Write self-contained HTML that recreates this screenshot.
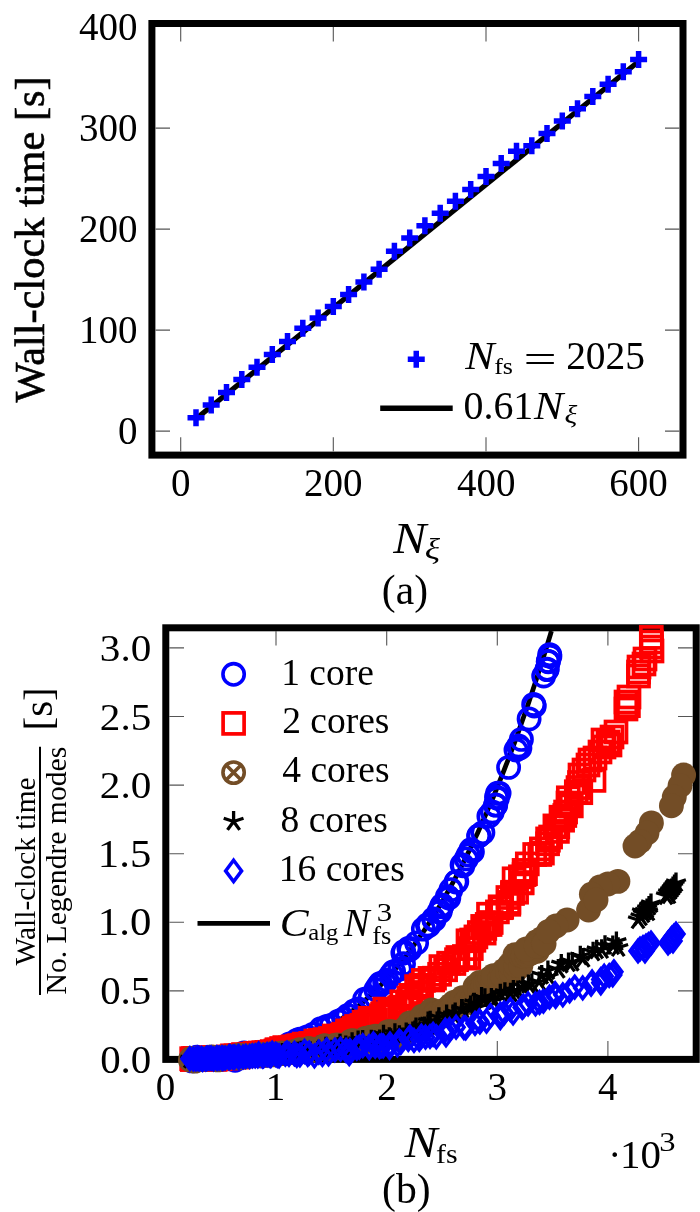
<!DOCTYPE html>
<html><head><meta charset="utf-8"><style>
html,body{margin:0;padding:0;background:#fff;}
svg{display:block;will-change:transform;}
text{font-family:"Liberation Serif", serif;fill:#000;}
.t{font-size:39px;}
.l{font-size:42px;}
.s{font-size:30px;}
.ss{font-size:29px;}
.lg{font-size:37.5px;}
.fr{font-size:29.5px;}
</style></head><body>
<svg width="700" height="1212" viewBox="0 0 700 1212">
<defs>
<symbol id="mc" overflow="visible"><circle r="10.65" fill="none" stroke="#00f" stroke-width="3.6"/></symbol>
<symbol id="ms" overflow="visible"><rect x="-10.5" y="-10.5" width="21" height="21" fill="none" stroke="#f00" stroke-width="3.7"/></symbol>
<symbol id="mo" overflow="visible"><g fill="none" stroke="#734d26" stroke-width="3.6"><circle r="10.65"/><path d="M-7.5,-7.5L7.5,7.5M-7.5,7.5L7.5,-7.5"/></g></symbol>
<symbol id="mf" overflow="visible"><circle r="12.45" fill="#734d26"/></symbol>
<symbol id="mx" overflow="visible"><path d="M0,0V-10.4M0,0L9.9,-3.2M0,0L6.1,8.4M0,0L-6.1,8.4M0,0L-9.9,-3.2" fill="none" stroke="#000" stroke-width="3.3" stroke-linecap="butt"/></symbol>
<symbol id="md" overflow="visible"><path d="M0,-10.7L8,0L0,10.7L-8,0Z" fill="none" stroke="#00f" stroke-width="3.5"/></symbol>
</defs>
<rect x="151.9" y="23.5" width="531.1" height="431.6" fill="none" stroke="#000" stroke-width="7"/>
<path d="M180.7,451.6V437.2M180.7,27V41.4M333.3,451.6V437.2M333.3,27V41.4M486.0,451.6V437.2M486.0,27V41.4M638.6,451.6V437.2M638.6,27V41.4M155.4,431.1H170M679.6,431.1H665M155.4,330.1H170M679.6,330.1H665M155.4,229.1H170M679.6,229.1H665M155.4,128.1H170M679.6,128.1H665" stroke="#555" stroke-width="1.1" fill="none"/>
<path d="M196.0,418.8L638.6,61.4" stroke="#000" stroke-width="5.2"/>
<path d="M187.5,417.8h17M196.0,409.3v17M202.7,405.0h17M211.2,396.5v17M218.0,392.4h17M226.5,383.9v17M233.3,379.5h17M241.8,371.0v17M248.5,367.3h17M257.0,358.8v17M263.8,354.4h17M272.3,345.9v17M279.0,341.5h17M287.5,333.0v17M294.3,328.2h17M302.8,319.7v17M309.6,318.1h17M318.1,309.6v17M324.8,306.5h17M333.3,298.0v17M340.1,294.4h17M348.6,285.9v17M355.4,282.0h17M363.9,273.5v17M370.6,269.2h17M379.1,260.7v17M385.9,251.2h17M394.4,242.7v17M401.2,238.1h17M409.7,229.6v17M416.4,225.7h17M424.9,217.2v17M431.7,213.2h17M440.2,204.7v17M446.9,201.2h17M455.4,192.7v17M462.2,189.6h17M470.7,181.1v17M477.5,176.4h17M486.0,167.9v17M492.7,163.6h17M501.2,155.1v17M508.0,151.3h17M516.5,142.8v17M523.3,145.7h17M531.8,137.2v17M538.5,133.5h17M547.0,125.0v17M553.8,121.0h17M562.3,112.5v17M569.0,108.8h17M577.5,100.3v17M584.3,96.5h17M592.8,88.0v17M599.6,84.3h17M608.1,75.8v17M614.8,71.7h17M623.3,63.2v17M630.1,59.4h17M638.6,50.9v17" stroke="#00f" stroke-width="5.5" fill="none"/>
<path d="M407.75,359.25h17M416.25,350.75v17" stroke="#00f" stroke-width="5.5"/>
<path d="M380.2,408.25H452.7" stroke="#000" stroke-width="5.3"/>
<text transform="translate(117.90,443.70)" font-size="39">0</text>
<text transform="translate(78.90,342.70)" font-size="39">100</text>
<text transform="translate(78.90,241.70)" font-size="39">200</text>
<text transform="translate(78.90,140.70)" font-size="39">300</text>
<text transform="translate(78.90,39.70)" font-size="39">400</text>
<text transform="translate(170.95,496.00)" font-size="39">0</text>
<text transform="translate(303.96,496.00)" font-size="39">200</text>
<text transform="translate(457.09,496.00)" font-size="39">400</text>
<text transform="translate(609.23,496.00)" font-size="39">600</text>
<text transform="translate(43.5,239.4) rotate(-90)" text-anchor="middle" font-size="42" textLength="326" lengthAdjust="spacingAndGlyphs" stroke="#000" stroke-width="0.6">Wall-clock time [s]</text>
<text transform="translate(393.18,552.90) scale(1.1244,1)" font-size="44" font-style="italic">N</text>
<text transform="translate(424.81,559.00) scale(1.1915,1)" font-size="30" font-style="italic">ξ</text>
<text transform="translate(381.87,603.90) scale(0.9896,1)" font-size="42">(a)</text>
<text transform="translate(465.28,369.30) scale(1.1250,1)" font-size="39" font-style="italic">N</text>
<text transform="translate(494.19,373.60) scale(1.0857,1)" font-size="24">fs</text>
<text transform="translate(523.38,373.00) scale(1.5111,1)" font-size="39">=</text>
<text transform="translate(566.13,369.40) scale(1.0127,1)" font-size="39">2025</text>
<text transform="translate(463.47,418.80) scale(1.0233,1)" font-size="39">0.61</text>
<text transform="translate(533.88,418.80) scale(1.1250,1)" font-size="39" font-style="italic">N</text>
<text transform="translate(564.42,423.00) scale(1.1707,1)" font-size="25.5" font-style="italic">ξ</text>
<rect x="165.8" y="627.8" width="530.4" height="431.6" fill="none" stroke="#000" stroke-width="7"/>
<path d="M276.0,1056V1041M276.0,631V645.5M386.7,1056V1041M386.7,631V645.5M497.3,1056V1041M497.3,631V645.5M607.9,1056V1041M607.9,631V645.5M169.2,990.9H184M692.8,990.9H678M169.2,922.3H184M692.8,922.3H678M169.2,853.7H184M692.8,853.7H678M169.2,785.1H184M692.8,785.1H678M169.2,716.5H184M692.8,716.5H678M169.2,647.9H184M692.8,647.9H678" stroke="#555" stroke-width="1.1" fill="none"/>
<polyline points="187.5,1059.4 189.7,1059.4 192.0,1059.4 194.2,1059.3 196.4,1059.3 198.6,1059.2 200.8,1059.2 203.0,1059.1 205.2,1059.0 207.4,1058.9 209.7,1058.9 211.9,1058.8 214.1,1058.6 216.3,1058.5 218.5,1058.4 220.7,1058.2 222.9,1058.1 225.1,1057.9 227.4,1057.7 229.6,1057.5 231.8,1057.3 234.0,1057.1 236.2,1056.9 238.4,1056.6 240.6,1056.3 242.8,1056.0 245.1,1055.7 247.3,1055.4 249.5,1055.1 251.7,1054.7 253.9,1054.3 256.1,1053.9 258.3,1053.5 260.5,1053.1 262.8,1052.6 265.0,1052.1 267.2,1051.6 269.4,1051.1 271.6,1050.6 273.8,1050.0 276.0,1049.4 278.2,1048.8 280.5,1048.2 282.7,1047.5 284.9,1046.8 287.1,1046.1 289.3,1045.3 291.5,1044.6 293.7,1043.8 295.9,1042.9 298.2,1042.1 300.4,1041.2 302.6,1040.3 304.8,1039.3 307.0,1038.4 309.2,1037.3 311.4,1036.3 313.6,1035.2 315.9,1034.1 318.1,1033.0 320.3,1031.8 322.5,1030.6 324.7,1029.4 326.9,1028.1 329.1,1026.8 331.3,1025.5 333.6,1024.1 335.8,1022.7 338.0,1021.2 340.2,1019.7 342.4,1018.2 344.6,1016.6 346.8,1015.0 349.0,1013.4 351.3,1011.7 353.5,1010.0 355.7,1008.2 357.9,1006.4 360.1,1004.5 362.3,1002.6 364.5,1000.7 366.7,998.7 369.0,996.7 371.2,994.6 373.4,992.5 375.6,990.3 377.8,988.1 380.0,985.9 382.2,983.6 384.4,981.2 386.7,978.8 388.9,976.4 391.1,973.9 393.3,971.3 395.5,968.8 397.7,966.1 399.9,963.4 402.1,960.7 404.4,957.9 406.6,955.0 408.8,952.1 411.0,949.2 413.2,946.2 415.4,943.1 417.6,940.0 419.8,936.8 422.1,933.6 424.3,930.3 426.5,927.0 428.7,923.6 430.9,920.1 433.1,916.6 435.3,913.0 437.5,909.4 439.8,905.7 442.0,901.9 444.2,898.1 446.4,894.2 448.6,890.3 450.8,886.3 453.0,882.3 455.3,878.1 457.5,874.0 459.7,869.7 461.9,865.4 464.1,861.0 466.3,856.6 468.5,852.1 470.7,847.5 473.0,842.8 475.2,838.1 477.4,833.4 479.6,828.5 481.8,823.6 484.0,818.6 486.2,813.6 488.4,808.4 490.7,803.2 492.9,798.0 495.1,792.6 497.3,787.2 499.5,781.7 501.7,776.2 503.9,770.6 506.1,764.9 508.4,759.1 510.6,753.2 512.8,747.3 515.0,741.3 517.2,735.2 519.4,729.1 521.6,722.8 523.8,716.5 526.1,710.1 528.3,703.7 530.5,697.1 532.7,690.5 534.9,683.8 537.1,677.0 539.3,670.1 541.5,663.2 543.8,656.1 546.0,649.0 548.2,641.8 550.4,634.5 551.4,631" fill="none" stroke="#000" stroke-width="4.8"/>
<use href="#mc" x="191.8" y="1060.9"/>
<use href="#mc" x="194.6" y="1060.4"/>
<use href="#mc" x="196.8" y="1057.2"/>
<use href="#mc" x="202.4" y="1059.2"/>
<use href="#mc" x="203.5" y="1058.6"/>
<use href="#mc" x="206.8" y="1057.7"/>
<use href="#mc" x="212.7" y="1058.2"/>
<use href="#mc" x="211.7" y="1057.6"/>
<use href="#mc" x="218.1" y="1059.5"/>
<use href="#mc" x="220.2" y="1059.4"/>
<use href="#mc" x="224.0" y="1058.7"/>
<use href="#mc" x="225.9" y="1057.7"/>
<use href="#mc" x="229.7" y="1056.0"/>
<use href="#mc" x="235.1" y="1060.2"/>
<use href="#mc" x="240.2" y="1056.9"/>
<use href="#mc" x="244.0" y="1052.9"/>
<use href="#mc" x="249.6" y="1053.6"/>
<use href="#mc" x="250.2" y="1053.5"/>
<use href="#mc" x="256.8" y="1054.1"/>
<use href="#mc" x="261.0" y="1056.1"/>
<use href="#mc" x="265.9" y="1054.8"/>
<use href="#mc" x="270.5" y="1051.9"/>
<use href="#mc" x="273.5" y="1052.3"/>
<use href="#mc" x="279.5" y="1051.0"/>
<use href="#mc" x="284.9" y="1049.4"/>
<use href="#mc" x="288.9" y="1044.9"/>
<use href="#mc" x="289.6" y="1044.0"/>
<use href="#mc" x="296.8" y="1040.5"/>
<use href="#mc" x="299.7" y="1039.1"/>
<use href="#mc" x="307.1" y="1037.0"/>
<use href="#mc" x="313.4" y="1034.2"/>
<use href="#mc" x="320.8" y="1028.7"/>
<use href="#mc" x="326.8" y="1026.5"/>
<use href="#mc" x="331.5" y="1025.3"/>
<use href="#mc" x="338.5" y="1021.1"/>
<use href="#mc" x="343.7" y="1018.9"/>
<use href="#mc" x="347.9" y="1015.5"/>
<use href="#mc" x="354.2" y="1011.0"/>
<use href="#mc" x="358.5" y="1009.0"/>
<use href="#mc" x="364.7" y="999.3"/>
<use href="#mc" x="370.1" y="997.5"/>
<use href="#mc" x="375.9" y="989.7"/>
<use href="#mc" x="378.2" y="986.2"/>
<use href="#mc" x="380.4" y="983.4"/>
<use href="#mc" x="384.7" y="982.6"/>
<use href="#mc" x="386.9" y="980.0"/>
<use href="#mc" x="391.3" y="974.6"/>
<use href="#mc" x="393.6" y="971.6"/>
<use href="#mc" x="400.0" y="968.9"/>
<use href="#mc" x="403.5" y="963.7"/>
<use href="#mc" x="549.7" y="654.6"/>
<use href="#mc" x="548.3" y="661.4"/>
<use href="#mc" x="547.1" y="669.1"/>
<use href="#mc" x="543.7" y="676.0"/>
<use href="#mc" x="534.3" y="706.0"/>
<use href="#mc" x="529.1" y="718.9"/>
<use href="#mc" x="521.4" y="739.4"/>
<use href="#mc" x="518.5" y="746.0"/>
<use href="#mc" x="516.0" y="750.0"/>
<use href="#mc" x="508.6" y="767.4"/>
<use href="#mc" x="499.1" y="793.1"/>
<use href="#mc" x="497.4" y="798.3"/>
<use href="#mc" x="495.7" y="805.1"/>
<use href="#mc" x="492.3" y="812.0"/>
<use href="#mc" x="488.9" y="816.3"/>
<use href="#mc" x="482.9" y="832.6"/>
<use href="#mc" x="478.6" y="836.0"/>
<use href="#mc" x="470.9" y="849.7"/>
<use href="#mc" x="468.3" y="854.9"/>
<use href="#mc" x="466.3" y="858.9"/>
<use href="#mc" x="462.9" y="865.7"/>
<use href="#mc" x="456.0" y="882.0"/>
<use href="#mc" x="450.9" y="889.7"/>
<use href="#mc" x="447.4" y="896.6"/>
<use href="#mc" x="442.3" y="905.1"/>
<use href="#mc" x="438.9" y="912.0"/>
<use href="#mc" x="433.7" y="918.9"/>
<use href="#mc" x="428.6" y="925.7"/>
<use href="#mc" x="423.4" y="929.1"/>
<use href="#mc" x="416.6" y="942.9"/>
<use href="#mc" x="409.7" y="949.7"/>
<use href="#mc" x="402.9" y="953.1"/>
<use href="#mc" x="549.9" y="656.3"/>
<use href="#mc" x="548.3" y="661.7"/>
<use href="#mc" x="547.1" y="669.6"/>
<use href="#mc" x="533.7" y="704.4"/>
<use href="#mc" x="519.9" y="747.9"/>
<use href="#mc" x="497.6" y="793.2"/>
<use href="#mc" x="496.5" y="797.3"/>
<use href="#mc" x="495.6" y="804.9"/>
<use href="#mc" x="479.1" y="835.8"/>
<use href="#mc" x="472.4" y="851.7"/>
<use href="#mc" x="462.1" y="864.9"/>
<use href="#mc" x="456.8" y="881.6"/>
<use href="#mc" x="448.8" y="898.0"/>
<use href="#mc" x="441.4" y="906.7"/>
<use href="#mc" x="440.3" y="911.6"/>
<use href="#mc" x="434.1" y="920.0"/>
<use href="#mc" x="427.4" y="925.0"/>
<use href="#mc" x="408.9" y="948.1"/>
<use href="#mc" x="403.8" y="951.8"/>
<use href="#ms" x="191.7" y="1058.7"/>
<use href="#ms" x="192.3" y="1059.6"/>
<use href="#ms" x="193.5" y="1058.5"/>
<use href="#ms" x="195.3" y="1058.4"/>
<use href="#ms" x="196.7" y="1059.1"/>
<use href="#ms" x="201.1" y="1058.7"/>
<use href="#ms" x="201.3" y="1058.8"/>
<use href="#ms" x="203.4" y="1058.7"/>
<use href="#ms" x="203.5" y="1059.4"/>
<use href="#ms" x="206.1" y="1058.3"/>
<use href="#ms" x="207.4" y="1058.7"/>
<use href="#ms" x="210.5" y="1058.3"/>
<use href="#ms" x="211.8" y="1057.6"/>
<use href="#ms" x="214.3" y="1057.6"/>
<use href="#ms" x="215.1" y="1059.4"/>
<use href="#ms" x="219.7" y="1058.8"/>
<use href="#ms" x="221.0" y="1057.9"/>
<use href="#ms" x="224.4" y="1057.2"/>
<use href="#ms" x="225.8" y="1058.1"/>
<use href="#ms" x="228.8" y="1057.0"/>
<use href="#ms" x="232.5" y="1055.8"/>
<use href="#ms" x="233.7" y="1057.1"/>
<use href="#ms" x="236.0" y="1055.8"/>
<use href="#ms" x="238.1" y="1057.1"/>
<use href="#ms" x="240.5" y="1055.4"/>
<use href="#ms" x="243.3" y="1054.8"/>
<use href="#ms" x="243.9" y="1054.8"/>
<use href="#ms" x="248.8" y="1055.1"/>
<use href="#ms" x="250.9" y="1054.1"/>
<use href="#ms" x="254.2" y="1054.3"/>
<use href="#ms" x="255.3" y="1055.0"/>
<use href="#ms" x="255.3" y="1053.4"/>
<use href="#ms" x="258.5" y="1054.6"/>
<use href="#ms" x="260.3" y="1053.0"/>
<use href="#ms" x="262.7" y="1053.7"/>
<use href="#ms" x="263.8" y="1052.7"/>
<use href="#ms" x="266.9" y="1052.4"/>
<use href="#ms" x="269.7" y="1052.3"/>
<use href="#ms" x="272.2" y="1051.6"/>
<use href="#ms" x="275.9" y="1050.9"/>
<use href="#ms" x="277.0" y="1049.7"/>
<use href="#ms" x="279.1" y="1050.1"/>
<use href="#ms" x="281.6" y="1048.5"/>
<use href="#ms" x="284.8" y="1047.6"/>
<use href="#ms" x="287.3" y="1048.3"/>
<use href="#ms" x="290.4" y="1047.9"/>
<use href="#ms" x="293.0" y="1046.9"/>
<use href="#ms" x="294.8" y="1047.1"/>
<use href="#ms" x="297.5" y="1046.1"/>
<use href="#ms" x="299.6" y="1045.7"/>
<use href="#ms" x="302.5" y="1045.3"/>
<use href="#ms" x="303.8" y="1045.1"/>
<use href="#ms" x="304.3" y="1044.1"/>
<use href="#ms" x="310.7" y="1043.4"/>
<use href="#ms" x="312.5" y="1044.1"/>
<use href="#ms" x="315.8" y="1041.0"/>
<use href="#ms" x="316.3" y="1042.4"/>
<use href="#ms" x="319.5" y="1041.8"/>
<use href="#ms" x="320.0" y="1040.6"/>
<use href="#ms" x="322.0" y="1041.6"/>
<use href="#ms" x="322.5" y="1040.4"/>
<use href="#ms" x="325.2" y="1039.6"/>
<use href="#ms" x="331.0" y="1039.0"/>
<use href="#ms" x="330.4" y="1038.6"/>
<use href="#ms" x="332.0" y="1038.7"/>
<use href="#ms" x="336.5" y="1038.4"/>
<use href="#ms" x="334.3" y="1036.0"/>
<use href="#ms" x="338.8" y="1038.3"/>
<use href="#ms" x="343.7" y="1034.2"/>
<use href="#ms" x="342.5" y="1035.5"/>
<use href="#ms" x="347.7" y="1032.0"/>
<use href="#ms" x="347.7" y="1030.9"/>
<use href="#ms" x="352.3" y="1030.0"/>
<use href="#ms" x="354.0" y="1028.3"/>
<use href="#ms" x="357.4" y="1028.7"/>
<use href="#ms" x="356.6" y="1026.5"/>
<use href="#ms" x="361.9" y="1025.4"/>
<use href="#ms" x="364.1" y="1022.3"/>
<use href="#ms" x="366.5" y="1022.0"/>
<use href="#ms" x="370.1" y="1018.3"/>
<use href="#ms" x="371.1" y="1021.1"/>
<use href="#ms" x="375.5" y="1020.2"/>
<use href="#ms" x="381.4" y="1015.9"/>
<use href="#ms" x="383.0" y="1013.7"/>
<use href="#ms" x="382.7" y="1014.2"/>
<use href="#ms" x="384.8" y="1009.1"/>
<use href="#ms" x="390.0" y="1010.7"/>
<use href="#ms" x="393.1" y="1010.4"/>
<use href="#ms" x="395.2" y="1009.6"/>
<use href="#ms" x="401.3" y="1007.2"/>
<use href="#ms" x="399.6" y="1007.7"/>
<use href="#ms" x="401.8" y="1001.8"/>
<use href="#ms" x="407.5" y="1003.8"/>
<use href="#ms" x="408.9" y="998.1"/>
<use href="#ms" x="410.9" y="995.4"/>
<use href="#ms" x="411.1" y="995.4"/>
<use href="#ms" x="421.3" y="992.6"/>
<use href="#ms" x="421.3" y="992.8"/>
<use href="#ms" x="416.6" y="986.6"/>
<use href="#ms" x="419.7" y="988.0"/>
<use href="#ms" x="423.4" y="980.4"/>
<use href="#ms" x="421.2" y="985.2"/>
<use href="#ms" x="430.0" y="978.4"/>
<use href="#ms" x="434.5" y="978.2"/>
<use href="#ms" x="432.7" y="980.0"/>
<use href="#ms" x="439.6" y="974.3"/>
<use href="#ms" x="440.9" y="966.6"/>
<use href="#ms" x="445.6" y="969.8"/>
<use href="#ms" x="448.6" y="963.2"/>
<use href="#ms" x="453.9" y="963.5"/>
<use href="#ms" x="456.5" y="959.7"/>
<use href="#ms" x="457.9" y="957.5"/>
<use href="#ms" x="465.1" y="958.2"/>
<use href="#ms" x="464.4" y="956.5"/>
<use href="#ms" x="468.8" y="957.6"/>
<use href="#ms" x="471.3" y="948.6"/>
<use href="#ms" x="468.0" y="940.8"/>
<use href="#ms" x="471.7" y="940.0"/>
<use href="#ms" x="473.9" y="940.3"/>
<use href="#ms" x="475.9" y="936.9"/>
<use href="#ms" x="479.3" y="932.5"/>
<use href="#ms" x="482.7" y="926.4"/>
<use href="#ms" x="484.2" y="933.1"/>
<use href="#ms" x="484.8" y="928.4"/>
<use href="#ms" x="490.1" y="924.5"/>
<use href="#ms" x="487.2" y="924.4"/>
<use href="#ms" x="491.2" y="922.5"/>
<use href="#ms" x="488.5" y="914.2"/>
<use href="#ms" x="497.4" y="911.9"/>
<use href="#ms" x="500.1" y="906.8"/>
<use href="#ms" x="501.7" y="907.4"/>
<use href="#ms" x="500.7" y="907.7"/>
<use href="#ms" x="507.9" y="897.5"/>
<use href="#ms" x="508.9" y="902.4"/>
<use href="#ms" x="508.8" y="904.3"/>
<use href="#ms" x="512.5" y="892.3"/>
<use href="#ms" x="512.5" y="893.5"/>
<use href="#ms" x="516.6" y="892.2"/>
<use href="#ms" x="522.0" y="882.8"/>
<use href="#ms" x="514.1" y="878.8"/>
<use href="#ms" x="522.0" y="882.8"/>
<use href="#ms" x="520.4" y="876.8"/>
<use href="#ms" x="524.1" y="874.6"/>
<use href="#ms" x="524.1" y="870.4"/>
<use href="#ms" x="525.5" y="873.7"/>
<use href="#ms" x="527.3" y="863.9"/>
<use href="#ms" x="534.7" y="854.5"/>
<use href="#ms" x="542.4" y="853.1"/>
<use href="#ms" x="539.8" y="854.5"/>
<use href="#ms" x="541.4" y="848.9"/>
<use href="#ms" x="547.6" y="843.8"/>
<use href="#ms" x="548.4" y="840.2"/>
<use href="#ms" x="550.6" y="837.0"/>
<use href="#ms" x="547.6" y="838.9"/>
<use href="#ms" x="554.9" y="825.9"/>
<use href="#ms" x="557.4" y="831.4"/>
<use href="#ms" x="557.8" y="826.9"/>
<use href="#ms" x="557.4" y="826.8"/>
<use href="#ms" x="562.6" y="820.2"/>
<use href="#ms" x="561.0" y="817.2"/>
<use href="#ms" x="564.8" y="815.5"/>
<use href="#ms" x="565.6" y="812.0"/>
<use href="#ms" x="571.3" y="805.9"/>
<use href="#ms" x="568.0" y="803.0"/>
<use href="#ms" x="568.3" y="797.8"/>
<use href="#ms" x="576.3" y="791.7"/>
<use href="#ms" x="580.8" y="792.7"/>
<use href="#ms" x="578.0" y="787.6"/>
<use href="#ms" x="579.5" y="782.5"/>
<use href="#ms" x="594.0" y="780.4"/>
<use href="#ms" x="651.3" y="637.4"/>
<use href="#ms" x="651.5" y="642.0"/>
<use href="#ms" x="651.5" y="647.0"/>
<use href="#ms" x="652.0" y="651.0"/>
<use href="#ms" x="645.0" y="659.0"/>
<use href="#ms" x="644.0" y="664.0"/>
<use href="#ms" x="639.0" y="667.0"/>
<use href="#ms" x="638.5" y="672.0"/>
<use href="#ms" x="638.5" y="676.0"/>
<use href="#ms" x="629.0" y="697.0"/>
<use href="#ms" x="626.0" y="702.0"/>
<use href="#ms" x="628.4" y="705.7"/>
<use href="#ms" x="626.0" y="709.0"/>
<use href="#ms" x="616.0" y="732.0"/>
<use href="#ms" x="612.0" y="737.0"/>
<use href="#ms" x="608.0" y="742.0"/>
<use href="#ms" x="604.0" y="747.0"/>
<use href="#ms" x="600.0" y="752.0"/>
<use href="#ms" x="595.0" y="758.0"/>
<use href="#ms" x="610.0" y="745.0"/>
<use href="#ms" x="603.0" y="740.0"/>
<use href="#ms" x="588.0" y="765.0"/>
<use href="#ms" x="584.0" y="770.0"/>
<use href="#ms" x="580.0" y="775.0"/>
<use href="#ms" x="590.0" y="760.0"/>
<use href="#mf" x="190.4" y="1059.9"/>
<use href="#mf" x="191.3" y="1058.5"/>
<use href="#mf" x="194.4" y="1059.1"/>
<use href="#mf" x="194.9" y="1061.1"/>
<use href="#mf" x="197.0" y="1058.3"/>
<use href="#mf" x="199.4" y="1059.6"/>
<use href="#mf" x="200.6" y="1058.6"/>
<use href="#mf" x="205.0" y="1059.1"/>
<use href="#mf" x="206.1" y="1058.8"/>
<use href="#mf" x="207.9" y="1058.7"/>
<use href="#mf" x="211.3" y="1057.0"/>
<use href="#mf" x="213.6" y="1057.7"/>
<use href="#mf" x="216.5" y="1058.1"/>
<use href="#mf" x="217.9" y="1059.9"/>
<use href="#mf" x="219.1" y="1057.8"/>
<use href="#mf" x="221.0" y="1058.5"/>
<use href="#mf" x="222.4" y="1057.2"/>
<use href="#mf" x="227.1" y="1057.2"/>
<use href="#mf" x="228.8" y="1057.2"/>
<use href="#mf" x="233.0" y="1057.0"/>
<use href="#mf" x="233.7" y="1056.7"/>
<use href="#mf" x="236.0" y="1056.7"/>
<use href="#mf" x="238.8" y="1055.3"/>
<use href="#mf" x="239.0" y="1056.2"/>
<use href="#mf" x="239.7" y="1057.7"/>
<use href="#mf" x="243.6" y="1056.7"/>
<use href="#mf" x="243.8" y="1055.8"/>
<use href="#mf" x="247.4" y="1056.1"/>
<use href="#mf" x="249.5" y="1056.2"/>
<use href="#mf" x="252.2" y="1055.9"/>
<use href="#mf" x="253.3" y="1055.4"/>
<use href="#mf" x="255.1" y="1055.2"/>
<use href="#mf" x="258.1" y="1055.0"/>
<use href="#mf" x="258.6" y="1055.1"/>
<use href="#mf" x="260.9" y="1054.8"/>
<use href="#mf" x="263.9" y="1054.8"/>
<use href="#mf" x="267.1" y="1055.2"/>
<use href="#mf" x="269.2" y="1054.4"/>
<use href="#mf" x="270.3" y="1054.8"/>
<use href="#mf" x="271.3" y="1053.7"/>
<use href="#mf" x="272.6" y="1053.7"/>
<use href="#mf" x="274.9" y="1054.9"/>
<use href="#mf" x="278.2" y="1053.8"/>
<use href="#mf" x="280.8" y="1053.4"/>
<use href="#mf" x="281.7" y="1052.9"/>
<use href="#mf" x="283.7" y="1053.6"/>
<use href="#mf" x="285.9" y="1053.3"/>
<use href="#mf" x="289.4" y="1052.5"/>
<use href="#mf" x="290.9" y="1052.5"/>
<use href="#mf" x="293.7" y="1052.2"/>
<use href="#mf" x="295.4" y="1051.2"/>
<use href="#mf" x="296.4" y="1052.5"/>
<use href="#mf" x="299.3" y="1050.7"/>
<use href="#mf" x="299.7" y="1049.6"/>
<use href="#mf" x="302.6" y="1051.0"/>
<use href="#mf" x="305.1" y="1051.7"/>
<use href="#mf" x="307.5" y="1050.6"/>
<use href="#mf" x="308.8" y="1048.4"/>
<use href="#mf" x="312.0" y="1050.0"/>
<use href="#mf" x="314.0" y="1050.0"/>
<use href="#mf" x="315.0" y="1049.4"/>
<use href="#mf" x="318.8" y="1048.6"/>
<use href="#mf" x="323.8" y="1046.1"/>
<use href="#mf" x="325.7" y="1047.2"/>
<use href="#mf" x="324.8" y="1045.7"/>
<use href="#mf" x="326.3" y="1047.3"/>
<use href="#mf" x="328.9" y="1047.6"/>
<use href="#mf" x="330.5" y="1049.0"/>
<use href="#mf" x="333.5" y="1045.8"/>
<use href="#mf" x="336.9" y="1044.9"/>
<use href="#mf" x="339.1" y="1046.3"/>
<use href="#mf" x="337.8" y="1047.8"/>
<use href="#mf" x="337.8" y="1047.3"/>
<use href="#mf" x="342.0" y="1046.1"/>
<use href="#mf" x="342.9" y="1045.1"/>
<use href="#mf" x="347.5" y="1046.0"/>
<use href="#mf" x="350.7" y="1046.1"/>
<use href="#mf" x="353.2" y="1040.7"/>
<use href="#mf" x="351.2" y="1040.9"/>
<use href="#mf" x="354.2" y="1044.0"/>
<use href="#mf" x="354.8" y="1043.2"/>
<use href="#mf" x="359.4" y="1041.9"/>
<use href="#mf" x="360.5" y="1042.1"/>
<use href="#mf" x="363.4" y="1040.5"/>
<use href="#mf" x="364.4" y="1042.0"/>
<use href="#mf" x="365.2" y="1038.5"/>
<use href="#mf" x="368.8" y="1041.4"/>
<use href="#mf" x="366.9" y="1038.8"/>
<use href="#mf" x="372.2" y="1039.9"/>
<use href="#mf" x="370.5" y="1037.1"/>
<use href="#mf" x="375.5" y="1036.2"/>
<use href="#mf" x="375.0" y="1039.8"/>
<use href="#mf" x="376.3" y="1039.2"/>
<use href="#mf" x="380.8" y="1039.8"/>
<use href="#mf" x="385.0" y="1037.8"/>
<use href="#mf" x="388.3" y="1033.3"/>
<use href="#mf" x="389.5" y="1034.0"/>
<use href="#mf" x="387.1" y="1036.1"/>
<use href="#mf" x="388.3" y="1031.6"/>
<use href="#mf" x="391.5" y="1031.8"/>
<use href="#mf" x="397.6" y="1036.2"/>
<use href="#mf" x="398.7" y="1037.2"/>
<use href="#mf" x="398.2" y="1034.6"/>
<use href="#mf" x="400.3" y="1033.9"/>
<use href="#mf" x="405.7" y="1035.4"/>
<use href="#mf" x="407.6" y="1026.2"/>
<use href="#mf" x="406.7" y="1029.7"/>
<use href="#mf" x="404.9" y="1028.9"/>
<use href="#mf" x="409.9" y="1022.9"/>
<use href="#mf" x="409.5" y="1031.1"/>
<use href="#mf" x="413.4" y="1028.7"/>
<use href="#mf" x="411.4" y="1023.5"/>
<use href="#mf" x="414.5" y="1027.6"/>
<use href="#mf" x="416.8" y="1025.4"/>
<use href="#mf" x="422.4" y="1023.6"/>
<use href="#mf" x="424.1" y="1026.5"/>
<use href="#mf" x="422.6" y="1018.9"/>
<use href="#mf" x="422.1" y="1016.3"/>
<use href="#mf" x="431.0" y="1023.1"/>
<use href="#mf" x="426.5" y="1018.9"/>
<use href="#mf" x="432.7" y="1020.3"/>
<use href="#mf" x="430.8" y="1016.2"/>
<use href="#mf" x="431.7" y="1009.9"/>
<use href="#mf" x="435.0" y="1013.2"/>
<use href="#mf" x="436.2" y="1013.8"/>
<use href="#mf" x="443.1" y="1015.0"/>
<use href="#mf" x="442.6" y="1016.3"/>
<use href="#mf" x="442.9" y="1011.2"/>
<use href="#mf" x="441.0" y="1012.2"/>
<use href="#mf" x="450.1" y="1005.7"/>
<use href="#mf" x="443.9" y="1010.5"/>
<use href="#mf" x="447.2" y="1011.8"/>
<use href="#mf" x="451.8" y="1007.9"/>
<use href="#mf" x="454.4" y="1002.1"/>
<use href="#mf" x="459.5" y="1003.7"/>
<use href="#mf" x="459.1" y="1007.0"/>
<use href="#mf" x="465.8" y="998.3"/>
<use href="#mf" x="464.5" y="1000.6"/>
<use href="#mf" x="464.0" y="1000.3"/>
<use href="#mf" x="466.5" y="998.7"/>
<use href="#mf" x="462.3" y="997.7"/>
<use href="#mf" x="465.6" y="1002.3"/>
<use href="#mf" x="470.0" y="1002.4"/>
<use href="#mf" x="468.2" y="999.1"/>
<use href="#mf" x="471.6" y="1000.5"/>
<use href="#mf" x="478.6" y="990.6"/>
<use href="#mf" x="477.2" y="993.3"/>
<use href="#mf" x="476.5" y="990.3"/>
<use href="#mf" x="475.0" y="986.8"/>
<use href="#mf" x="479.7" y="982.5"/>
<use href="#mf" x="479.9" y="989.0"/>
<use href="#mf" x="480.0" y="992.3"/>
<use href="#mf" x="483.1" y="986.0"/>
<use href="#mf" x="485.5" y="984.0"/>
<use href="#mf" x="488.2" y="982.5"/>
<use href="#mf" x="493.2" y="984.4"/>
<use href="#mf" x="490.1" y="978.4"/>
<use href="#mf" x="492.6" y="980.2"/>
<use href="#mf" x="501.0" y="980.8"/>
<use href="#mf" x="493.4" y="975.8"/>
<use href="#mf" x="499.5" y="979.3"/>
<use href="#mf" x="505.7" y="975.6"/>
<use href="#mf" x="503.6" y="970.8"/>
<use href="#mf" x="501.4" y="975.1"/>
<use href="#mf" x="503.0" y="976.3"/>
<use href="#mf" x="507.5" y="972.0"/>
<use href="#mf" x="509.6" y="964.8"/>
<use href="#mf" x="511.1" y="972.2"/>
<use href="#mf" x="514.0" y="962.8"/>
<use href="#mf" x="515.6" y="968.9"/>
<use href="#mf" x="510.7" y="964.8"/>
<use href="#mf" x="515.9" y="970.3"/>
<use href="#mf" x="519.0" y="957.8"/>
<use href="#mf" x="516.1" y="965.2"/>
<use href="#mf" x="515.0" y="954.7"/>
<use href="#mf" x="520.9" y="965.8"/>
<use href="#mf" x="520.2" y="955.4"/>
<use href="#mf" x="525.7" y="953.2"/>
<use href="#mf" x="523.1" y="956.0"/>
<use href="#mf" x="526.8" y="955.5"/>
<use href="#mf" x="527.0" y="951.6"/>
<use href="#mf" x="537.3" y="951.2"/>
<use href="#mf" x="532.9" y="947.8"/>
<use href="#mf" x="531.1" y="953.2"/>
<use href="#mf" x="526.3" y="948.9"/>
<use href="#mf" x="538.1" y="946.0"/>
<use href="#mf" x="538.4" y="945.4"/>
<use href="#mf" x="536.7" y="941.8"/>
<use href="#mf" x="541.7" y="938.8"/>
<use href="#mf" x="536.2" y="946.1"/>
<use href="#mf" x="543.4" y="943.3"/>
<use href="#mf" x="544.1" y="943.8"/>
<use href="#mf" x="683.6" y="775.0"/>
<use href="#mf" x="680.0" y="785.7"/>
<use href="#mf" x="674.3" y="797.0"/>
<use href="#mf" x="671.4" y="805.7"/>
<use href="#mf" x="651.4" y="822.9"/>
<use href="#mf" x="647.0" y="833.0"/>
<use href="#mf" x="640.0" y="841.4"/>
<use href="#mf" x="635.0" y="846.0"/>
<use href="#mf" x="617.9" y="881.4"/>
<use href="#mf" x="608.0" y="884.0"/>
<use href="#mf" x="600.0" y="887.0"/>
<use href="#mf" x="591.4" y="894.3"/>
<use href="#mf" x="588.6" y="910.0"/>
<use href="#mf" x="596.0" y="900.0"/>
<use href="#mf" x="567.1" y="920.0"/>
<use href="#mf" x="556.0" y="926.0"/>
<use href="#mf" x="548.6" y="931.4"/>
<use href="#mx" x="190.3" y="1059.3"/>
<use href="#mx" x="193.2" y="1059.2"/>
<use href="#mx" x="196.5" y="1058.6"/>
<use href="#mx" x="200.0" y="1059.3"/>
<use href="#mx" x="202.5" y="1058.9"/>
<use href="#mx" x="205.3" y="1058.4"/>
<use href="#mx" x="209.0" y="1058.3"/>
<use href="#mx" x="211.1" y="1058.0"/>
<use href="#mx" x="216.0" y="1058.2"/>
<use href="#mx" x="219.3" y="1057.8"/>
<use href="#mx" x="221.6" y="1058.1"/>
<use href="#mx" x="226.8" y="1057.4"/>
<use href="#mx" x="229.6" y="1057.4"/>
<use href="#mx" x="234.0" y="1057.0"/>
<use href="#mx" x="236.5" y="1056.9"/>
<use href="#mx" x="238.9" y="1057.6"/>
<use href="#mx" x="241.4" y="1057.0"/>
<use href="#mx" x="243.1" y="1056.6"/>
<use href="#mx" x="246.7" y="1056.5"/>
<use href="#mx" x="249.8" y="1057.0"/>
<use href="#mx" x="251.8" y="1056.8"/>
<use href="#mx" x="254.1" y="1055.6"/>
<use href="#mx" x="257.6" y="1056.0"/>
<use href="#mx" x="261.3" y="1055.3"/>
<use href="#mx" x="264.9" y="1056.0"/>
<use href="#mx" x="266.0" y="1053.9"/>
<use href="#mx" x="271.4" y="1053.1"/>
<use href="#mx" x="273.0" y="1056.8"/>
<use href="#mx" x="276.4" y="1055.5"/>
<use href="#mx" x="282.4" y="1053.3"/>
<use href="#mx" x="284.1" y="1053.9"/>
<use href="#mx" x="288.6" y="1053.1"/>
<use href="#mx" x="290.2" y="1053.3"/>
<use href="#mx" x="293.7" y="1053.2"/>
<use href="#mx" x="297.6" y="1052.2"/>
<use href="#mx" x="299.4" y="1052.1"/>
<use href="#mx" x="301.2" y="1051.1"/>
<use href="#mx" x="302.6" y="1051.5"/>
<use href="#mx" x="310.3" y="1051.9"/>
<use href="#mx" x="310.3" y="1052.5"/>
<use href="#mx" x="317.7" y="1051.4"/>
<use href="#mx" x="318.6" y="1050.1"/>
<use href="#mx" x="325.9" y="1047.2"/>
<use href="#mx" x="327.0" y="1050.0"/>
<use href="#mx" x="330.1" y="1051.9"/>
<use href="#mx" x="336.1" y="1049.4"/>
<use href="#mx" x="338.1" y="1047.5"/>
<use href="#mx" x="340.0" y="1044.2"/>
<use href="#mx" x="345.8" y="1046.0"/>
<use href="#mx" x="352.1" y="1042.7"/>
<use href="#mx" x="353.7" y="1046.7"/>
<use href="#mx" x="358.1" y="1040.9"/>
<use href="#mx" x="362.7" y="1040.5"/>
<use href="#mx" x="371.3" y="1040.1"/>
<use href="#mx" x="374.2" y="1040.9"/>
<use href="#mx" x="378.1" y="1041.9"/>
<use href="#mx" x="379.6" y="1039.9"/>
<use href="#mx" x="380.5" y="1042.2"/>
<use href="#mx" x="383.5" y="1035.1"/>
<use href="#mx" x="390.6" y="1038.7"/>
<use href="#mx" x="389.3" y="1037.6"/>
<use href="#mx" x="394.9" y="1033.7"/>
<use href="#mx" x="399.4" y="1035.6"/>
<use href="#mx" x="401.6" y="1038.0"/>
<use href="#mx" x="406.2" y="1032.8"/>
<use href="#mx" x="412.8" y="1032.0"/>
<use href="#mx" x="416.0" y="1027.9"/>
<use href="#mx" x="414.9" y="1030.9"/>
<use href="#mx" x="424.4" y="1027.0"/>
<use href="#mx" x="428.2" y="1025.5"/>
<use href="#mx" x="430.2" y="1021.2"/>
<use href="#mx" x="428.1" y="1021.8"/>
<use href="#mx" x="437.1" y="1021.9"/>
<use href="#mx" x="438.9" y="1017.6"/>
<use href="#mx" x="446.6" y="1015.0"/>
<use href="#mx" x="452.9" y="1014.9"/>
<use href="#mx" x="455.2" y="1012.8"/>
<use href="#mx" x="461.7" y="1009.5"/>
<use href="#mx" x="462.1" y="1009.3"/>
<use href="#mx" x="470.6" y="1005.9"/>
<use href="#mx" x="469.6" y="1008.8"/>
<use href="#mx" x="474.3" y="1003.1"/>
<use href="#mx" x="477.4" y="1007.7"/>
<use href="#mx" x="481.6" y="997.5"/>
<use href="#mx" x="484.9" y="998.7"/>
<use href="#mx" x="491.4" y="998.5"/>
<use href="#mx" x="494.7" y="1000.8"/>
<use href="#mx" x="500.3" y="994.1"/>
<use href="#mx" x="504.9" y="992.7"/>
<use href="#mx" x="510.5" y="993.1"/>
<use href="#mx" x="513.4" y="990.4"/>
<use href="#mx" x="517.8" y="990.9"/>
<use href="#mx" x="522.8" y="986.8"/>
<use href="#mx" x="528.4" y="984.8"/>
<use href="#mx" x="531.8" y="984.0"/>
<use href="#mx" x="539.1" y="982.0"/>
<use href="#mx" x="541.7" y="975.3"/>
<use href="#mx" x="548.5" y="977.0"/>
<use href="#mx" x="547.9" y="970.8"/>
<use href="#mx" x="558.3" y="969.5"/>
<use href="#mx" x="561.3" y="964.3"/>
<use href="#mx" x="568.5" y="963.0"/>
<use href="#mx" x="572.3" y="962.3"/>
<use href="#mx" x="580.3" y="956.2"/>
<use href="#mx" x="583.2" y="958.5"/>
<use href="#mx" x="593.1" y="952.2"/>
<use href="#mx" x="596.7" y="950.1"/>
<use href="#mx" x="601.7" y="949.7"/>
<use href="#mx" x="605.0" y="945.7"/>
<use href="#mx" x="612.8" y="945.9"/>
<use href="#mx" x="618.2" y="947.7"/>
<use href="#mx" x="676.0" y="883.0"/>
<use href="#mx" x="674.5" y="885.0"/>
<use href="#mx" x="673.0" y="887.0"/>
<use href="#mx" x="671.5" y="889.0"/>
<use href="#mx" x="670.0" y="891.0"/>
<use href="#mx" x="668.0" y="893.0"/>
<use href="#mx" x="669.0" y="895.0"/>
<use href="#mx" x="666.0" y="896.0"/>
<use href="#mx" x="651.0" y="904.0"/>
<use href="#mx" x="649.0" y="906.5"/>
<use href="#mx" x="647.0" y="909.0"/>
<use href="#mx" x="645.0" y="911.5"/>
<use href="#mx" x="643.0" y="914.0"/>
<use href="#mx" x="640.5" y="917.0"/>
<use href="#mx" x="638.0" y="920.0"/>
<use href="#mx" x="642.0" y="912.0"/>
<use href="#mx" x="648.0" y="912.0"/>
<use href="#mx" x="616.4" y="941.8"/>
<use href="#md" x="189.9" y="1058.7"/>
<use href="#md" x="193.3" y="1058.8"/>
<use href="#md" x="195.8" y="1059.0"/>
<use href="#md" x="197.7" y="1058.2"/>
<use href="#md" x="199.1" y="1058.8"/>
<use href="#md" x="201.4" y="1058.6"/>
<use href="#md" x="202.7" y="1059.4"/>
<use href="#md" x="205.7" y="1059.0"/>
<use href="#md" x="206.6" y="1058.3"/>
<use href="#md" x="207.9" y="1058.2"/>
<use href="#md" x="209.9" y="1058.2"/>
<use href="#md" x="211.3" y="1058.2"/>
<use href="#md" x="213.5" y="1059.0"/>
<use href="#md" x="216.6" y="1057.9"/>
<use href="#md" x="217.4" y="1058.2"/>
<use href="#md" x="219.2" y="1058.0"/>
<use href="#md" x="221.9" y="1057.8"/>
<use href="#md" x="222.9" y="1058.3"/>
<use href="#md" x="225.2" y="1058.0"/>
<use href="#md" x="229.0" y="1057.8"/>
<use href="#md" x="229.3" y="1056.7"/>
<use href="#md" x="230.5" y="1057.0"/>
<use href="#md" x="233.0" y="1057.2"/>
<use href="#md" x="234.7" y="1057.0"/>
<use href="#md" x="238.2" y="1056.6"/>
<use href="#md" x="239.2" y="1057.2"/>
<use href="#md" x="243.0" y="1057.0"/>
<use href="#md" x="245.8" y="1056.4"/>
<use href="#md" x="249.6" y="1056.5"/>
<use href="#md" x="252.4" y="1055.9"/>
<use href="#md" x="255.2" y="1055.8"/>
<use href="#md" x="257.8" y="1056.0"/>
<use href="#md" x="258.7" y="1053.9"/>
<use href="#md" x="262.8" y="1056.1"/>
<use href="#md" x="263.5" y="1055.7"/>
<use href="#md" x="267.1" y="1054.6"/>
<use href="#md" x="270.8" y="1055.7"/>
<use href="#md" x="269.3" y="1055.1"/>
<use href="#md" x="272.2" y="1053.2"/>
<use href="#md" x="275.7" y="1054.4"/>
<use href="#md" x="279.1" y="1055.9"/>
<use href="#md" x="277.3" y="1055.5"/>
<use href="#md" x="285.3" y="1054.2"/>
<use href="#md" x="287.0" y="1053.0"/>
<use href="#md" x="289.0" y="1054.3"/>
<use href="#md" x="294.7" y="1053.7"/>
<use href="#md" x="294.3" y="1053.7"/>
<use href="#md" x="296.8" y="1055.5"/>
<use href="#md" x="299.9" y="1055.0"/>
<use href="#md" x="304.5" y="1051.3"/>
<use href="#md" x="307.7" y="1054.5"/>
<use href="#md" x="309.2" y="1053.0"/>
<use href="#md" x="314.4" y="1056.0"/>
<use href="#md" x="318.8" y="1052.2"/>
<use href="#md" x="322.4" y="1054.5"/>
<use href="#md" x="326.6" y="1049.8"/>
<use href="#md" x="328.5" y="1053.8"/>
<use href="#md" x="334.9" y="1050.0"/>
<use href="#md" x="340.6" y="1049.2"/>
<use href="#md" x="346.0" y="1050.3"/>
<use href="#md" x="349.2" y="1053.7"/>
<use href="#md" x="349.9" y="1050.5"/>
<use href="#md" x="356.8" y="1048.2"/>
<use href="#md" x="359.3" y="1047.2"/>
<use href="#md" x="362.8" y="1045.7"/>
<use href="#md" x="369.1" y="1046.7"/>
<use href="#md" x="369.3" y="1047.7"/>
<use href="#md" x="373.4" y="1043.9"/>
<use href="#md" x="375.2" y="1046.1"/>
<use href="#md" x="379.6" y="1046.7"/>
<use href="#md" x="381.4" y="1045.5"/>
<use href="#md" x="383.2" y="1046.0"/>
<use href="#md" x="389.5" y="1047.5"/>
<use href="#md" x="390.0" y="1044.1"/>
<use href="#md" x="397.4" y="1044.8"/>
<use href="#md" x="400.8" y="1042.5"/>
<use href="#md" x="399.2" y="1041.0"/>
<use href="#md" x="408.3" y="1039.5"/>
<use href="#md" x="409.9" y="1037.0"/>
<use href="#md" x="414.0" y="1040.4"/>
<use href="#md" x="421.4" y="1036.2"/>
<use href="#md" x="419.3" y="1039.3"/>
<use href="#md" x="425.5" y="1037.2"/>
<use href="#md" x="430.0" y="1036.5"/>
<use href="#md" x="433.1" y="1034.3"/>
<use href="#md" x="436.3" y="1036.8"/>
<use href="#md" x="445.3" y="1030.2"/>
<use href="#md" x="446.0" y="1035.0"/>
<use href="#md" x="449.5" y="1029.6"/>
<use href="#md" x="456.1" y="1027.2"/>
<use href="#md" x="463.9" y="1027.7"/>
<use href="#md" x="465.7" y="1027.9"/>
<use href="#md" x="475.0" y="1023.3"/>
<use href="#md" x="479.3" y="1020.8"/>
<use href="#md" x="479.9" y="1022.0"/>
<use href="#md" x="486.5" y="1021.2"/>
<use href="#md" x="490.4" y="1015.5"/>
<use href="#md" x="500.3" y="1017.6"/>
<use href="#md" x="500.4" y="1014.0"/>
<use href="#md" x="504.1" y="1012.8"/>
<use href="#md" x="510.3" y="1009.5"/>
<use href="#md" x="513.1" y="1013.0"/>
<use href="#md" x="522.2" y="1007.4"/>
<use href="#md" x="523.5" y="1006.2"/>
<use href="#md" x="528.1" y="1003.9"/>
<use href="#md" x="535.5" y="1003.9"/>
<use href="#md" x="539.5" y="1002.4"/>
<use href="#md" x="543.4" y="1001.2"/>
<use href="#md" x="549.5" y="997.2"/>
<use href="#md" x="555.1" y="993.5"/>
<use href="#md" x="555.6" y="996.3"/>
<use href="#md" x="562.8" y="994.8"/>
<use href="#md" x="569.6" y="990.9"/>
<use href="#md" x="574.7" y="987.1"/>
<use href="#md" x="582.7" y="987.9"/>
<use href="#md" x="591.1" y="984.1"/>
<use href="#md" x="592.1" y="981.9"/>
<use href="#md" x="600.8" y="979.5"/>
<use href="#md" x="600.8" y="982.8"/>
<use href="#md" x="604.2" y="976.2"/>
<use href="#md" x="609.2" y="975.5"/>
<use href="#md" x="612.7" y="974.9"/>
<use href="#md" x="613.9" y="971.8"/>
<use href="#md" x="676.0" y="934.0"/>
<use href="#md" x="674.0" y="936.0"/>
<use href="#md" x="672.0" y="938.0"/>
<use href="#md" x="671.0" y="939.5"/>
<use href="#md" x="670.0" y="941.0"/>
<use href="#md" x="668.0" y="943.0"/>
<use href="#md" x="673.0" y="941.0"/>
<use href="#md" x="651.0" y="943.0"/>
<use href="#md" x="648.5" y="944.5"/>
<use href="#md" x="646.0" y="946.0"/>
<use href="#md" x="643.0" y="947.5"/>
<use href="#md" x="640.0" y="949.0"/>
<use href="#md" x="638.0" y="951.0"/>
<use href="#md" x="645.0" y="951.0"/>
<text transform="translate(100.13,1072.50) scale(1.0492,1)" font-size="39">0.0</text>
<text transform="translate(100.13,1003.90) scale(1.0492,1)" font-size="39">0.5</text>
<text transform="translate(97.86,935.30) scale(1.0971,1)" font-size="39">1.0</text>
<text transform="translate(97.86,866.70) scale(1.0971,1)" font-size="39">1.5</text>
<text transform="translate(99.85,798.10) scale(1.0549,1)" font-size="39">2.0</text>
<text transform="translate(99.85,729.50) scale(1.0549,1)" font-size="39">2.5</text>
<text transform="translate(99.85,660.90) scale(1.0549,1)" font-size="39">3.0</text>
<text transform="translate(155.65,1099.60)" font-size="39">0</text>
<text transform="translate(265.65,1099.60)" font-size="39">1</text>
<text transform="translate(377.16,1099.60)" font-size="39">2</text>
<text transform="translate(487.41,1099.60)" font-size="39">3</text>
<text transform="translate(598.04,1099.60)" font-size="39">4</text>
<text transform="translate(608.35,1167.90)" font-size="39">·</text>
<text transform="translate(619.93,1167.60) scale(1.0500,1)" font-size="39">10</text>
<text transform="translate(659.19,1151.20) scale(1.2089,1)" font-size="27">3</text>
<text transform="translate(404.58,1156.80) scale(1.1213,1)" font-size="44" font-style="italic">N</text>
<text transform="translate(435.98,1163.40) scale(1.0904,1)" font-size="27.5">fs</text>
<text transform="translate(382.07,1202.50) scale(0.9912,1)" font-size="42">(b)</text>
<path d="M40,746.8V995" stroke="#000" stroke-width="2"/>
<text transform="translate(34.7,871.4) rotate(-90)" text-anchor="middle" font-size="29.5" textLength="188" lengthAdjust="spacingAndGlyphs">Wall-clock time</text>
<text transform="translate(65.6,870.6) rotate(-90)" text-anchor="middle" font-size="29.5" textLength="247.6" lengthAdjust="spacingAndGlyphs">No. Legendre modes</text>
<text transform="translate(51.5,708.9) rotate(-90)" text-anchor="middle" font-size="41">[s]</text>
<use href="#mc" x="233.6" y="674.3"/>
<use href="#ms" x="233.6" y="723.4"/>
<use href="#mo" x="233.6" y="772.6"/>
<use href="#mx" x="233.6" y="821.5"/>
<use href="#md" x="233.6" y="870.9"/>
<text transform="translate(281.15,684.60)" font-size="37.5">1 core</text>
<text transform="translate(282.20,733.00)" font-size="37.5">2 cores</text>
<text transform="translate(282.25,782.20)" font-size="37.5">4 cores</text>
<text transform="translate(280.50,832.00)" font-size="37.5">8 cores</text>
<text transform="translate(278.75,881.00)" font-size="37.5">16 cores</text>
<path d="M197.5,923.3H270" stroke="#000" stroke-width="4.8"/>
<text transform="translate(279.73,935.90) scale(1.0549,1)" font-size="41" font-style="italic">C</text>
<text transform="translate(308.23,940.10) scale(1.0286,1)" font-size="24">alg</text>
<text transform="translate(343.64,935.50) scale(0.9670,1)" font-size="40" font-style="italic">N</text>
<text transform="translate(372.20,944.00) scale(1.0615,1)" font-size="25">fs</text>
<text transform="translate(376.77,920.50) scale(1.1860,1)" font-size="26">3</text>
</svg>
</body></html>
